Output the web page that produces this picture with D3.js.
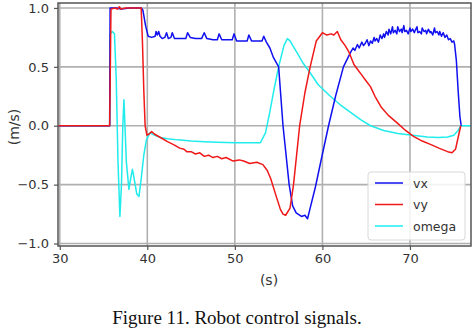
<!DOCTYPE html>
<html>
<head>
<meta charset="UTF-8">
<script src="https://d3js.org/d3.v7.min.js"></script>
<style>
  * { margin: 0; padding: 0; }
  body { background: #fff; width: 474px; height: 329px; overflow: hidden; }
  svg { display: block; }
</style>
</head>
<body>
<svg id="chart" width="474" height="329"></svg>
<script>
// time (s), value (m/s)
const vxData = [
  [29.8,0],[35.7,0],[35.75,1.0],[36.5,1.0],[37.0,0.99],[38,1.0],[39.3,1.0],[39.5,0.98],[39.8,0.85],[40.1,0.76],
  [40.5,0.75],[40.9,0.76],[41.0,0.80],[41.15,0.77],[41.3,0.80],[41.45,0.76],[41.7,0.74],[42.0,0.75],[42.2,0.79],
  [42.4,0.74],[42.7,0.75],[42.85,0.79],[43.1,0.74],[44.0,0.74],[44.4,0.74],[44.6,0.79],[44.9,0.75],[45.5,0.74],
  [46.2,0.74],[46.5,0.79],[46.8,0.74],[47.5,0.73],[48.0,0.73],[48.2,0.78],[48.5,0.73],[49.3,0.73],[49.7,0.73],
  [49.9,0.78],[50.2,0.72],[51.0,0.72],[51.4,0.72],[51.6,0.77],[51.9,0.72],[52.8,0.72],[53.1,0.72],[53.3,0.76],
  [53.6,0.71],[54.0,0.66],[54.4,0.58],[55.0,0.5],[55.5,0.0],[56.2,-0.5],[56.6,-0.68],[57.0,-0.74],[57.6,-0.77],
  [58.0,-0.76],[58.3,-0.79],[58.6,-0.70],[59.2,-0.52],[59.8,-0.31],[60.7,0.0],[61.5,0.25],[62.4,0.5],[63.2,0.62],
  [63.5,0.66],[63.7,0.64],[64.0,0.69],[64.2,0.66],[64.5,0.71],[64.7,0.68],[64.9,0.70],[65.1,0.73],[65.3,0.68],
  [65.5,0.72],[65.7,0.70],[65.9,0.75],[66.0,0.72],[66.2,0.74],[66.4,0.71],[66.6,0.77],[66.8,0.74],[67.0,0.78],
  [67.1,0.75],[67.3,0.80],[67.5,0.77],[67.6,0.82],[67.8,0.78],[68.0,0.84],[68.1,0.79],[68.3,0.81],[68.5,0.78],
  [68.6,0.84],[68.8,0.80],[69.0,0.82],[69.1,0.79],[69.3,0.85],[69.4,0.80],[69.6,0.81],[69.8,0.78],[70.0,0.83],
  [70.1,0.80],[70.3,0.82],[70.5,0.79],[70.6,0.81],[70.8,0.84],[70.9,0.79],[71.1,0.80],[71.3,0.78],[71.4,0.83],
  [71.6,0.80],[71.8,0.81],[71.9,0.78],[72.1,0.82],[72.3,0.79],[72.4,0.80],[72.6,0.77],[72.8,0.83],[72.9,0.79],
  [73.1,0.80],[73.3,0.77],[73.4,0.80],[73.6,0.76],[73.8,0.79],[74.0,0.75],[74.2,0.77],[74.4,0.73],[74.6,0.74],
  [74.8,0.71],[75.0,0.72],[75.1,0.69],[75.3,0.55],[75.5,0.30],[75.7,0.08],[75.85,0]
];
const vyData = [
  [29.8,0],[35.7,0],[35.85,0.99],[36.3,1.0],[36.6,0.99],[36.8,1.01],[37.0,0.99],[37.5,1.0],[39.3,1.0],[39.45,0.7],
  [39.6,0.3],[39.75,0.0],[39.95,-0.08],[40.2,-0.07],[40.5,-0.05],[40.8,-0.07],[41.5,-0.10],[42.3,-0.135],
  [43.0,-0.16],[43.7,-0.19],[44.2,-0.2],[44.5,-0.22],[45.0,-0.22],[45.5,-0.24],[46.0,-0.23],[46.5,-0.26],
  [47.0,-0.25],[47.5,-0.27],[48.0,-0.26],[48.5,-0.28],[49.0,-0.27],[49.8,-0.30],[50.5,-0.29],[51.0,-0.30],
  [51.7,-0.32],[52.5,-0.31],[53.2,-0.33],[53.7,-0.38],[54.1,-0.45],[54.6,-0.57],[55.2,-0.71],[55.5,-0.75],
  [55.8,-0.76],[56.3,-0.70],[56.7,-0.5],[57.4,0.0],[58.0,0.28],[58.6,0.5],[59.3,0.72],[60.0,0.79],[60.5,0.77],
  [61.0,0.78],[61.3,0.77],[61.7,0.80],[62.1,0.73],[62.6,0.68],[63.0,0.63],[63.6,0.52],[64.0,0.48],[64.5,0.43],
  [65.0,0.38],[65.5,0.33],[66.0,0.25],[66.7,0.16],[67.5,0.09],[68.6,0.02],[69.5,-0.04],[70.4,-0.09],
  [71.4,-0.13],[72.4,-0.16],[73.3,-0.19],[74.3,-0.22],[74.8,-0.23],[75.2,-0.20],[75.5,-0.1],[75.8,0]
];
const omegaData = [
  [29.8,0],[35.7,0],[35.75,0.78],[36.0,0.8],[36.25,0.78],[36.45,0.4],[36.65,-0.3],[36.87,-0.77],[37.05,-0.5],
  [37.2,0.0],[37.33,0.22],[37.45,0.0],[37.6,-0.3],[37.9,-0.54],[38.1,-0.45],[38.3,-0.37],[38.5,-0.45],
  [38.8,-0.58],[39.05,-0.60],[39.3,-0.45],[39.6,-0.25],[39.9,-0.12],[40.3,-0.06],[40.8,-0.08],[41.5,-0.10],
  [42.3,-0.11],[43.5,-0.12],[45.0,-0.13],[46.5,-0.135],[48.0,-0.14],[50.0,-0.145],[52.0,-0.145],[52.9,-0.145],
  [53.5,-0.06],[54.0,0.12],[54.5,0.32],[55.0,0.5],[55.6,0.68],[56.0,0.74],[56.3,0.72],[56.7,0.67],[57.1,0.62],
  [57.8,0.53],[58.6,0.45],[59.5,0.35],[60.9,0.25],[62.0,0.18],[62.9,0.13],[64.4,0.05],[65.5,0.0],[67.0,-0.04],
  [68.6,-0.065],[70.3,-0.08],[72.0,-0.095],[73.2,-0.10],[74.3,-0.095],[75.0,-0.08],[75.5,-0.04],[75.8,0.0],
  [77.0,0.0]
];
const seriesNames = ['vx', 'vy', 'omega'];
const xTicks = [30, 40, 50, 60, 70];
const yTicks = [-1.0, -0.5, 0.0, 0.5, 1.0];

const colors = { vx: '#1010f0', vy: '#f01818', omega: '#20ecec' };
const pl = 58, pr = 471, pt = 3, pb = 246;

const svg = d3.select('#chart');
const x = d3.scaleLinear().domain([29.8, 76.97]).range([pl, pr]);
const y = d3.scaleLinear().domain([-1.021, 1.042]).range([pb, pt]);

// grid
const grid = svg.append('g');
grid.selectAll('line.gx').data(xTicks).join('line')
  .attr('x1', d => x(d)).attr('x2', d => x(d)).attr('y1', pt).attr('y2', pb)
  .attr('stroke', '#b0b0b0').attr('stroke-width', 1.6);
grid.selectAll('line.gy').data(yTicks).join('line')
  .attr('x1', pl).attr('x2', pr).attr('y1', d => y(d)).attr('y2', d => y(d))
  .attr('stroke', '#b0b0b0').attr('stroke-width', 1.6);

// lines
svg.append('clipPath').attr('id', 'clip').append('rect')
  .attr('x', pl).attr('y', pt).attr('width', pr - pl).attr('height', pb - pt);
const line = d3.line().x(d => x(d[0])).y(d => y(d[1]));
const plot = svg.append('g').attr('clip-path', 'url(#clip)');
[['omega', omegaData], ['vx', vxData], ['vy', vyData]].forEach(([name, data]) => {
  plot.append('path').datum(data).attr('d', line)
    .attr('fill', 'none').attr('stroke', colors[name]).attr('stroke-width', 1.5)
    .attr('stroke-linejoin', 'round');
});

// frame
svg.append('rect').attr('x', pl).attr('y', pt).attr('width', pr - pl).attr('height', pb - pt)
  .attr('fill', 'none').attr('stroke', '#555').attr('stroke-width', 1.5);

// axes
const fmtY = d3.format('.1f');
const xAxis = svg.append('g').attr('transform', `translate(0,${pb})`)
  .call(d3.axisBottom(x).tickValues(xTicks).tickSize(4).tickPadding(4));
const yAxis = svg.append('g').attr('transform', `translate(${pl},0)`)
  .call(d3.axisLeft(y).tickValues(yTicks).tickFormat(fmtY).tickSize(4).tickPadding(5));
[xAxis, yAxis].forEach(a => {
  a.select('.domain').remove();
  a.selectAll('line').attr('stroke', '#555').attr('stroke-width', 1.2);
  a.selectAll('text').attr('fill', '#333').attr('font-family', 'DejaVu Sans, sans-serif').attr('font-size', 13);
});

// axis labels
svg.append('text').attr('x', 269).attr('y', 285).attr('text-anchor', 'middle')
  .attr('font-family', 'DejaVu Sans, sans-serif').attr('font-size', 14).attr('fill', '#333').text('(s)');
svg.append('text').attr('transform', 'translate(19,127) rotate(-90)').attr('text-anchor', 'middle')
  .attr('font-family', 'DejaVu Sans, sans-serif').attr('font-size', 14).attr('fill', '#333').text('(m/s)');

// legend
const lg = svg.append('g');
lg.append('rect').attr('x', 368).attr('y', 172).attr('width', 97).attr('height', 68).attr('rx', 3)
  .attr('fill', 'rgba(255,255,255,0.85)').attr('stroke', '#d8d8d8');
seriesNames.forEach((name, i) => {
  const yy = 183 + i * 21.5;
  lg.append('line').attr('x1', 375).attr('x2', 403).attr('y1', yy).attr('y2', yy)
    .attr('stroke', colors[name]).attr('stroke-width', 1.5);
  lg.append('text').attr('x', 413).attr('y', yy + 4.5)
    .attr('font-family', 'DejaVu Sans, sans-serif').attr('font-size', 12.5).attr('fill', '#333').text(name);
});

// caption
svg.append('text').attr('x', 237).attr('y', 324).attr('text-anchor', 'middle')
  .attr('font-family', 'Liberation Serif, serif').attr('font-size', 19).attr('fill', '#111')
  .text('Figure 11. Robot control signals.');
</script>
</body>
</html>
